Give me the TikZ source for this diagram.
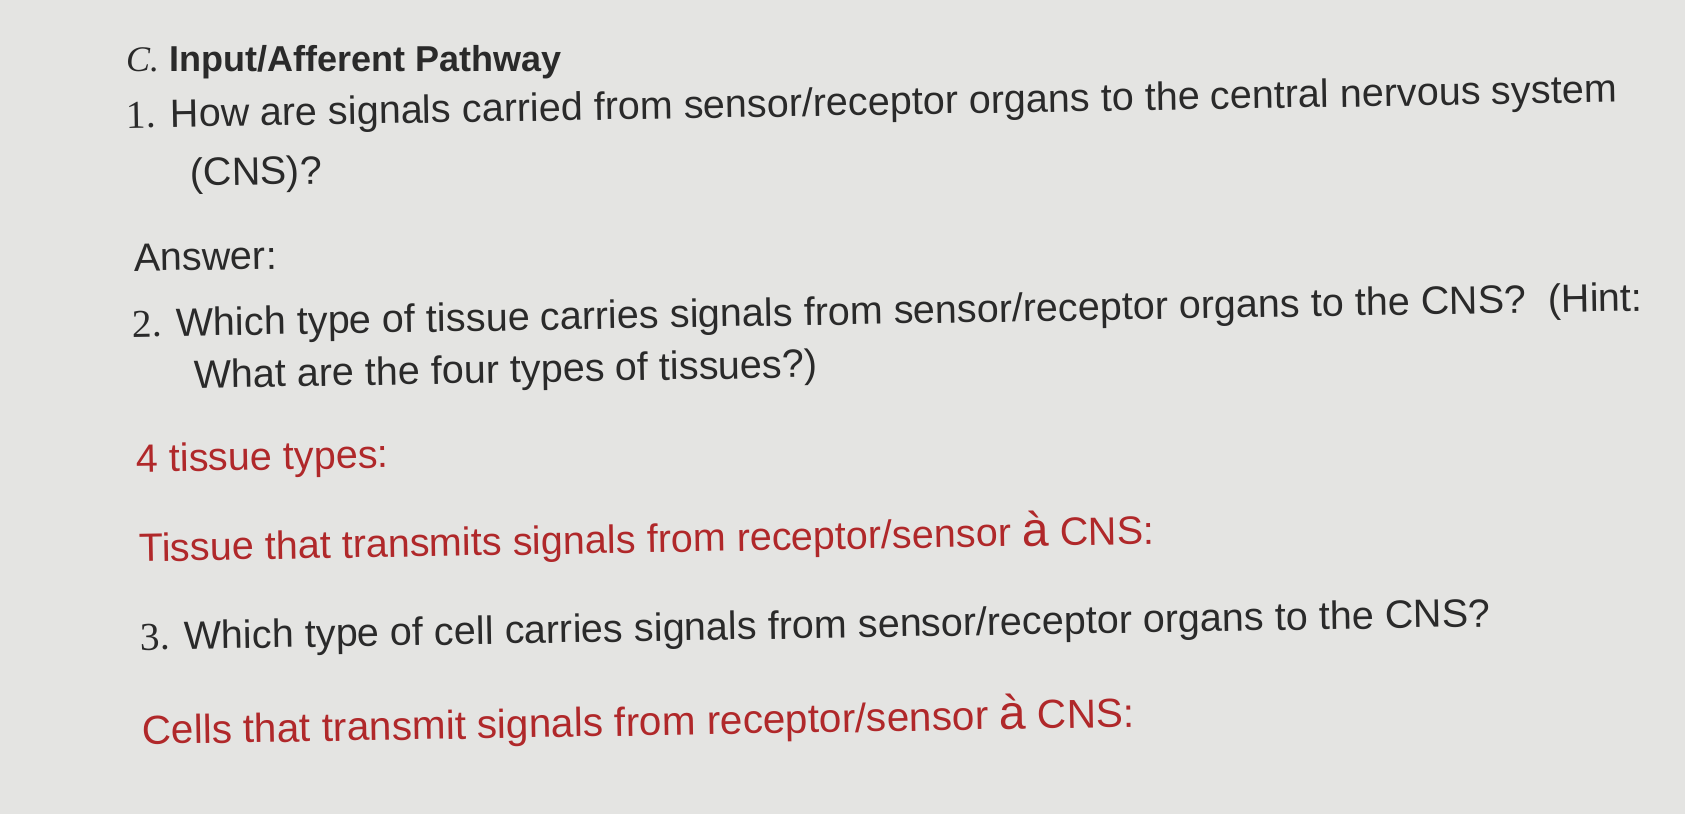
\documentclass[tikz,border=0pt]{standalone}
\usepackage{fontspec}
\setmainfont{Liberation Sans}
\newfontfamily\serifc{Liberation Serif}
\definecolor{bg}{HTML}{E4E4E2}
\definecolor{ink}{HTML}{2A2A2A}
\definecolor{redt}{HTML}{B0282A}
\begin{document}
\begin{tikzpicture}[x=1pt,y=-1pt,
  txt/.style={anchor=west,inner sep=0pt,font=\fontsize{39.5}{44}\selectfont,text=ink,rotate=1},
  red/.style={txt,text=redt}]
\fill[bg] (0,0) rectangle (1685,814);
\useasboundingbox (0,0) rectangle (1685,814);
\node[txt,rotate=-1,font=\fontsize{36}{40}\selectfont\bfseries] (t0) at (126,62) {{\serifc\mdseries\itshape C.} Input/Afferent Pathway};
\node[txt] (t1) at (126,118) {{\serifc 1.} How are signals carried from sensor/receptor organs to the central nervous system};
\node[txt] (t1b) at (190,176) {(CNS)?};
\node[txt] (t2) at (134,258) {Answer:};
\node[txt] (t3) at (132,327) {{\serifc 2.} Which type of tissue carries signals from sensor/receptor organs to the CNS?\ \ (Hint:};
\node[txt] (t3b) at (194,378) {What are the four types of tissues?)};
\node[red] (t4) at (136,462) {4 tissue types:};
\node[red] (t5) at (139,548) {Tissue that transmits signals from receptor/sensor {\fontsize{48}{48}\selectfont à} CNS:};
\node[txt] (t6) at (140,640) {{\serifc 3.} Which type of cell carries signals from sensor/receptor organs to the CNS?};
\node[red,font=\fontsize{40.5}{44}\selectfont] (t7) at (142,731) {Cells that transmit signals from receptor/sensor {\fontsize{48}{48}\selectfont à} CNS:};
\end{tikzpicture}
\end{document}
